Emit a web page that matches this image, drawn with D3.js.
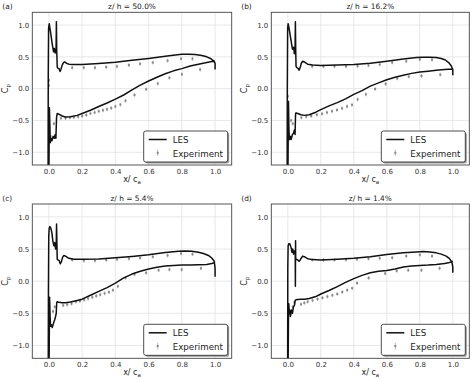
<!DOCTYPE html>
<html><head><meta charset="utf-8">
<script src="https://cdn.jsdelivr.net/npm/d3@7/dist/d3.min.js"></script>
<style>body{margin:0;background:#fff;}svg{display:block;font-family:"DejaVu Sans",sans-serif;}</style>
</head><body>
<svg id="chart" width="474" height="379"></svg>
<script>
// ---------- DATA ----------
const panelLabels = ["(a)", "(b)", "(c)", "(d)"];
const titles = ["z/ h = 50.0%", "z/ h = 16.2%", "z/ h = 5.4%", "z/ h = 1.4%"];
const xTicks = [0.0, 0.2, 0.4, 0.6, 0.8, 1.0];
const yTicks = [-1.0, -0.5, 0.0, 0.5, 1.0];
const legendLabels = ["LES", "Experiment"];

// LES Cp traces [x/c, Cp] (pressure side TE -> LE -> suction side TE)
const lesA = [[1.0,0.30],[1.0,0.40],[0.99,0.44],[0.975,0.47],[0.95,0.50],[0.92,0.52],[0.88,0.535],[0.84,0.54],[0.8,0.54],[0.76,0.53],[0.7,0.51],[0.6,0.475],[0.5,0.445],[0.4,0.415],[0.3,0.395],[0.2,0.38],[0.15,0.38],[0.12,0.385],[0.105,0.40],[0.095,0.42],[0.088,0.41],[0.08,0.37],[0.072,0.30],[0.067,0.27],[0.062,0.31],[0.055,0.32],[0.05,0.34],
 [0.047,0.6],[0.045,1.05],[0.043,0.60],[0.038,0.56],[0.033,0.63],[0.028,0.58],[0.02,0.7],[0.012,0.85],[0.006,0.95],[0.002,1.02],[-0.002,0.95],[-0.004,0.2],[-0.005,-1.3],
 [0.0,-1.3],[0.003,-0.3],[0.006,-0.6],[0.008,-0.85],[0.012,-0.78],[0.018,-0.82],[0.025,-0.75],[0.032,-0.78],[0.038,-0.72],[0.042,-0.78],[0.046,-0.45],[0.05,-0.39],
 [0.06,-0.40],[0.08,-0.43],[0.1,-0.445],[0.13,-0.44],[0.17,-0.42],[0.2,-0.39],[0.25,-0.34],[0.3,-0.28],[0.35,-0.225],[0.4,-0.165],[0.45,-0.10],[0.5,-0.02],[0.55,0.055],[0.6,0.12],[0.65,0.18],[0.7,0.235],[0.75,0.28],[0.8,0.315],[0.85,0.355],[0.9,0.385],[0.95,0.41],[0.98,0.425],[1.0,0.43]];
const lesB = [[1.0,0.21],[1.0,0.30],[0.99,0.36],[0.975,0.41],[0.955,0.45],[0.93,0.475],[0.9,0.49],[0.86,0.495],[0.82,0.495],[0.78,0.49],[0.7,0.465],[0.6,0.43],[0.5,0.40],[0.4,0.38],[0.3,0.37],[0.2,0.365],[0.15,0.37],[0.12,0.385],[0.1,0.42],[0.09,0.43],[0.082,0.40],[0.075,0.33],[0.068,0.29],[0.062,0.32],[0.055,0.33],[0.05,0.35],
 [0.048,0.6],[0.046,1.05],[0.044,0.62],[0.04,0.55],[0.035,0.65],[0.028,0.62],[0.02,0.75],[0.012,0.88],[0.006,0.97],[0.002,1.02],[-0.001,0.95],[-0.003,0.0],[-0.004,-1.3],
 [0.001,-1.3],[0.004,-0.2],[0.007,-0.65],[0.01,-0.8],[0.015,-0.75],[0.02,-0.8],[0.028,-0.72],[0.035,-0.7],[0.04,-0.65],[0.044,-0.72],[0.047,-0.4],[0.05,-0.38],
 [0.06,-0.39],[0.08,-0.41],[0.1,-0.42],[0.13,-0.41],[0.17,-0.37],[0.2,-0.33],[0.25,-0.27],[0.3,-0.22],[0.35,-0.16],[0.4,-0.09],[0.45,-0.03],[0.5,0.04],[0.55,0.09],[0.6,0.14],[0.65,0.18],[0.7,0.21],[0.75,0.24],[0.8,0.26],[0.85,0.275],[0.9,0.29],[0.95,0.30],[1.0,0.31]];
const lesC = [[1.0,0.07],[1.0,0.2],[0.995,0.31],[0.98,0.36],[0.96,0.40],[0.93,0.43],[0.9,0.45],[0.86,0.465],[0.82,0.47],[0.78,0.465],[0.7,0.445],[0.6,0.41],[0.5,0.385],[0.4,0.365],[0.3,0.345],[0.2,0.34],[0.15,0.34],[0.12,0.355],[0.1,0.39],[0.09,0.40],[0.082,0.37],[0.075,0.30],[0.068,0.27],[0.062,0.32],[0.055,0.33],[0.05,0.34],
 [0.048,0.6],[0.046,0.89],[0.044,0.55],[0.04,0.5],[0.035,0.6],[0.03,0.55],[0.024,0.62],[0.018,0.75],[0.012,0.82],[0.006,0.85],[0.002,0.83],[-0.001,0.7],[-0.003,-0.2],[-0.004,-1.3],
 [0.001,-1.3],[0.004,-0.25],[0.007,-0.55],[0.01,-0.7],[0.015,-0.68],[0.02,-0.72],[0.028,-0.65],[0.035,-0.6],[0.04,-0.55],[0.044,-0.5],[0.047,-0.33],[0.05,-0.32],
 [0.06,-0.33],[0.08,-0.335],[0.1,-0.335],[0.13,-0.325],[0.17,-0.30],[0.2,-0.28],[0.25,-0.22],[0.3,-0.16],[0.35,-0.10],[0.4,-0.03],[0.45,0.05],[0.5,0.11],[0.55,0.155],[0.6,0.19],[0.65,0.215],[0.7,0.235],[0.75,0.245],[0.8,0.25],[0.85,0.25],[0.9,0.255],[0.95,0.26],[0.98,0.275],[1.0,0.29]];
const lesD = [[1.0,0.13],[1.0,0.22],[0.995,0.29],[0.98,0.35],[0.96,0.39],[0.93,0.42],[0.9,0.44],[0.86,0.455],[0.82,0.46],[0.78,0.455],[0.7,0.44],[0.6,0.415],[0.5,0.38],[0.4,0.355],[0.3,0.34],[0.2,0.33],[0.15,0.335],[0.12,0.35],[0.1,0.38],[0.09,0.39],[0.082,0.36],[0.075,0.33],[0.068,0.31],[0.06,0.33],[0.052,0.34],
 [0.048,0.34],[0.047,0.63],[0.046,-0.08],[0.045,0.45],[0.04,0.47],[0.035,0.42],[0.03,0.5],[0.025,0.45],[0.02,0.52],[0.012,0.58],[0.006,0.58],[0.002,0.55],[0.0,0.2],[-0.001,-1.3],
 [0.002,-1.3],[0.004,-0.6],[0.006,-0.35],[0.009,-0.5],[0.012,-0.45],[0.016,-0.55],[0.022,-0.45],[0.028,-0.5],[0.034,-0.4],[0.04,-0.38],[0.045,-0.3],[0.05,-0.29],
 [0.06,-0.285],[0.08,-0.28],[0.1,-0.28],[0.13,-0.27],[0.17,-0.24],[0.2,-0.20],[0.25,-0.145],[0.3,-0.085],[0.35,-0.02],[0.4,0.04],[0.45,0.09],[0.5,0.13],[0.55,0.155],[0.6,0.165],[0.65,0.19],[0.7,0.22],[0.75,0.235],[0.8,0.245],[0.85,0.25],[0.9,0.26],[0.95,0.275],[0.98,0.29],[1.0,0.31]];

// Experiment [x/c, Cp]
const expA = [[0.0,0.13],[0.0,0.05],[0.01,-0.75],[0.03,-0.55],
 [0.14,0.33],[0.21,0.33],[0.277,0.33],[0.345,0.34],[0.409,0.35],[0.481,0.37],[0.549,0.39],[0.625,0.41],[0.714,0.44],[0.795,0.47],[0.864,0.47],
 [0.072,-0.465],[0.1,-0.465],[0.126,-0.455],[0.15,-0.45],[0.176,-0.44],[0.2,-0.43],[0.225,-0.415],[0.25,-0.39],[0.275,-0.375],[0.3,-0.355],[0.325,-0.34],[0.35,-0.325],[0.375,-0.305],[0.4,-0.28],[0.43,-0.25],[0.461,-0.19],[0.515,-0.10],[0.585,-0.01],[0.655,0.08],[0.725,0.17],[0.8,0.225],[0.91,0.30]];
const expB = [[0.0,-0.12],[0.02,-0.5],[0.03,-0.55],
 [0.148,0.35],[0.216,0.35],[0.283,0.35],[0.353,0.35],[0.423,0.355],[0.489,0.366],[0.557,0.38],[0.633,0.41],[0.718,0.43],[0.80,0.46],[0.874,0.455],
 [0.082,-0.455],[0.112,-0.44],[0.142,-0.43],[0.176,-0.41],[0.208,-0.395],[0.238,-0.375],[0.268,-0.355],[0.298,-0.335],[0.329,-0.31],[0.359,-0.28],[0.389,-0.255],[0.423,-0.17],[0.473,-0.09],[0.529,-0.005],[0.593,0.075],[0.663,0.16],[0.733,0.19],[0.81,0.20],[0.924,0.22]];
const expC = [[0.0,-0.3],[0.025,-0.47],[0.035,-0.4],
 [0.14,0.33],[0.21,0.32],[0.277,0.32],[0.345,0.33],[0.409,0.34],[0.481,0.35],[0.549,0.36],[0.625,0.38],[0.714,0.40],[0.795,0.43],[0.864,0.42],
 [0.086,-0.376],[0.11,-0.365],[0.136,-0.35],[0.162,-0.32],[0.186,-0.31],[0.212,-0.29],[0.236,-0.27],[0.261,-0.25],[0.285,-0.23],[0.309,-0.21],[0.335,-0.19],[0.361,-0.17],[0.385,-0.14],[0.415,-0.08],[0.461,0.05],[0.515,0.105],[0.585,0.13],[0.66,0.17],[0.725,0.18],[0.799,0.18],[0.915,0.20]];
const expD = [[0.03,-0.4],[0.04,-0.33],
 [0.148,0.33],[0.216,0.33],[0.283,0.33],[0.353,0.335],[0.419,0.34],[0.489,0.35],[0.557,0.355],[0.633,0.365],[0.718,0.39],[0.80,0.41],[0.874,0.39],
 [0.08,-0.36],[0.10,-0.34],[0.12,-0.32],[0.15,-0.30],[0.18,-0.28],[0.21,-0.26],[0.24,-0.24],[0.27,-0.22],[0.30,-0.20],[0.33,-0.17],[0.36,-0.14],[0.39,-0.11],[0.42,-0.03],[0.49,0.05],[0.59,0.12],[0.66,0.16],[0.73,0.17],[0.81,0.17],[0.92,0.20]];

const lesData = [lesA, lesB, lesC, lesD];
const expData = [expA, expB, expC, expD];

// ---------- LAYOUT ----------
const boxes = [
  {l:32.3, t:12.3, r:231.7, b:165},
  {l:271.3, t:12.3, r:469.3, b:165},
  {l:32.3, t:204, r:231.7, b:358.3},
  {l:271.3, t:204, r:469.3, b:358.3}
];
const errHalf = 0.03;

const svg = d3.select("#chart");
const fmt = v => (v < 0 ? "\u2212" : "") + Math.abs(v).toFixed(1);

boxes.forEach((bx, i) => {
  const x = d3.scaleLinear().domain([-0.1, 1.1]).range([bx.l, bx.r]);
  const y = d3.scaleLinear().domain([-1.2, 1.2]).range([bx.b, bx.t]);
  const g = svg.append("g");

  // grid
  g.selectAll(".gx").data(xTicks).join("line")
    .attr("x1", d => x(d)).attr("x2", d => x(d)).attr("y1", bx.t).attr("y2", bx.b)
    .attr("stroke", "#e2e2e2").attr("stroke-width", 0.8);
  g.selectAll(".gy").data(yTicks).join("line")
    .attr("y1", d => y(d)).attr("y2", d => y(d)).attr("x1", bx.l).attr("x2", bx.r)
    .attr("stroke", "#e2e2e2").attr("stroke-width", 0.8);

  // axes (labels only)
  const ax = g.append("g").attr("transform", `translate(0,${bx.b})`)
    .call(d3.axisBottom(x).tickValues(xTicks).tickFormat(d3.format(".1f")).tickSize(0).tickPadding(4));
  const ay = g.append("g").attr("transform", `translate(${bx.l},0)`)
    .call(d3.axisLeft(y).tickValues(yTicks).tickFormat(fmt).tickSize(0).tickPadding(3));
  [ax, ay].forEach(a => {
    a.select(".domain").remove();
    a.selectAll("text").attr("font-size", 7).attr("fill", "#333").attr("font-family", "DejaVu Sans");
  });

  // clip
  const cid = "clip" + i;
  svg.append("clipPath").attr("id", cid).append("rect")
    .attr("x", bx.l).attr("y", bx.t).attr("width", bx.r - bx.l).attr("height", bx.b - bx.t);
  const dg = g.append("g").attr("clip-path", `url(#${cid})`);

  // experiment
  const ex = dg.append("g");
  ex.selectAll("line").data(expData[i]).join("line")
    .attr("x1", d => x(d[0])).attr("x2", d => x(d[0]))
    .attr("y1", d => y(d[1] - errHalf)).attr("y2", d => y(d[1] + errHalf))
    .attr("stroke", "#999").attr("stroke-width", 0.7);
  ex.selectAll("rect").data(expData[i]).join("rect")
    .attr("x", d => x(d[0]) - 1).attr("y", d => y(d[1]) - 1)
    .attr("width", 2).attr("height", 2).attr("fill", "#888");

  // LES
  dg.append("path").datum(lesData[i])
    .attr("d", d3.line().x(d => x(d[0])).y(d => y(d[1])))
    .attr("fill", "none").attr("stroke", "#111").attr("stroke-width", 1.5)
    .attr("stroke-linejoin", "round");

  // frame
  g.append("rect").attr("x", bx.l).attr("y", bx.t).attr("width", bx.r - bx.l).attr("height", bx.b - bx.t)
    .attr("fill", "none").attr("stroke", "#444").attr("stroke-width", 0.9);

  // title
  g.append("text").attr("x", (bx.l + bx.r) / 2).attr("y", bx.t - 3).attr("text-anchor", "middle")
    .attr("font-size", 7.4).attr("fill", "#222").text(titles[i]);
  // panel label
  g.append("text").attr("x", bx.l - 30).attr("y", bx.t - 3).attr("font-size", 7.4).attr("fill", "#222")
    .text(panelLabels[i]);

  // axis labels
  const xl = g.append("text").attr("x", (bx.l + bx.r) / 2).attr("y", bx.b + 17).attr("text-anchor", "middle")
    .attr("font-size", 8).attr("fill", "#222");
  xl.append("tspan").text("x/ c");
  xl.append("tspan").attr("font-size", 5.5).attr("dy", 2).text("a");
  const yl = g.append("text").attr("transform", `translate(${bx.l - 24},${(bx.t + bx.b) / 2}) rotate(-90)`)
    .attr("text-anchor", "middle").attr("font-size", 8).attr("fill", "#222");
  yl.append("tspan").text("C");
  yl.append("tspan").attr("font-size", 5.5).attr("dy", 2).text("p");

  // legend
  const lw = 84, lh = 31;
  const lx = bx.r - 4 - lw, ly = bx.b - 3 - lh;
  const lg = g.append("g");
  lg.append("rect").attr("x", lx + 1.5).attr("y", ly + 1.5).attr("width", lw).attr("height", lh)
    .attr("rx", 2).attr("fill", "#999");
  lg.append("rect").attr("x", lx).attr("y", ly).attr("width", lw).attr("height", lh)
    .attr("rx", 2).attr("fill", "#fff").attr("stroke", "#222").attr("stroke-width", 0.8);
  lg.append("line").attr("x1", lx + 5).attr("x2", lx + 23).attr("y1", ly + 8.5).attr("y2", ly + 8.5)
    .attr("stroke", "#111").attr("stroke-width", 1.5);
  lg.append("line").attr("x1", lx + 14).attr("x2", lx + 14).attr("y1", ly + 18.5).attr("y2", ly + 25)
    .attr("stroke", "#999").attr("stroke-width", 0.7);
  lg.append("rect").attr("x", lx + 13).attr("y", ly + 20.8).attr("width", 2).attr("height", 2).attr("fill", "#888");
  lg.append("text").attr("x", lx + 29).attr("y", ly + 11.5).attr("font-size", 8.7).attr("fill", "#222").text(legendLabels[0]);
  lg.append("text").attr("x", lx + 29).attr("y", ly + 25.5).attr("font-size", 8.7).attr("fill", "#222").text(legendLabels[1]);
});
</script>
</body></html>
